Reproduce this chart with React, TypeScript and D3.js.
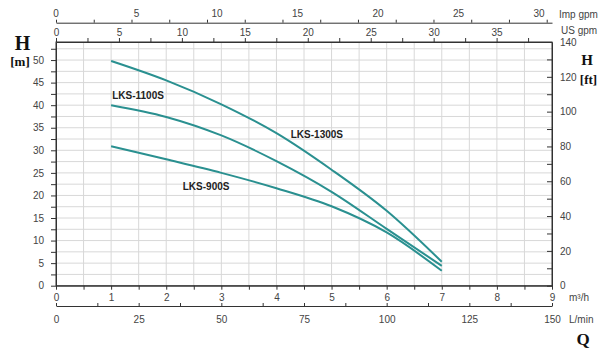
import { useEffect, useRef } from "react"
import * as d3 from "d3"

// flow points (m3/h) and head (m)
const flowQ = [1, 2, 3, 4, 5, 6, 7]
const head1300 = [49.8, 45.5, 40.2, 33.8, 25.7, 16.6, 5.3]
const head1100 = [40.0, 37.4, 33.3, 27.6, 20.8, 12.6, 4.4]
const head900 = [30.9, 28.0, 25.0, 21.6, 17.6, 11.8, 3.3]

const seriesNames = ["LKS-1300S", "LKS-1100S", "LKS-900S"]
const seriesValues = [head1300, head1100, head900]
// label anchor (Q, H) for each curve name
const labelQ = [4.26, 1.02, 2.3]
const labelH = [32.7, 41.4, 21.2]

const mTicks = d3.range(0, 54, 2.5)
const ftTicks = d3.range(0, 141, 10)
const qTicks = d3.range(0, 9.01, 0.5)
const lminTicks = d3.range(0, 150.1, 12.5)
const usTicks = d3.range(0, 39, 2.5)
const impTicks = d3.range(0, 33, 2.5)
const impLabels = [0, 5, 10, 15, 20, 25, 30]

const axisFont = "'Liberation Sans', Arial, sans-serif"
const serifFont = "'Liberation Serif', 'Times New Roman', serif"
const textColor = "#444"
const lineColor = "#2a9090"

export default function App() {
  const svgRef = useRef<SVGSVGElement>(null)

  useEffect(() => {
    if (!svgRef.current) return
    const root = d3.select(svgRef.current)
    root.selectAll("*").remove()

    const left = 56
    const right = 552
    const top = 42
    const bottom = 285.7

    const x = d3.scaleLinear().domain([0, 9]).range([left, right])
    const yM = d3.scaleLinear().domain([0, 54]).range([bottom, top])
    const yFt = d3.scaleLinear().domain([0, 140]).range([bottom, top])
    const xL = d3.scaleLinear().domain([0, 150]).range([left, right])
    const xUs = d3.scaleLinear().domain([0, 39.4]).range([left, right])
    const xImp = d3.scaleLinear().domain([0, 32.85]).range([left, right])
    // the printed imp gpm numbers drift from their ticks in the source
    const xImpLabel = d3.scaleLinear().domain([0, 30]).range([left, 539])

    root.append("rect").attr("width", 600).attr("height", 351).attr("fill", "#fff")

    // grid
    const grid = root.append("g").attr("stroke", "#d8d8d8").attr("stroke-width", 1)
    grid
      .selectAll("line.h")
      .data(mTicks.filter((d) => d > 0))
      .enter()
      .append("line")
      .attr("x1", left)
      .attr("x2", right)
      .attr("y1", (d) => yM(d))
      .attr("y2", (d) => yM(d))
    grid
      .selectAll("line.v")
      .data(qTicks.filter((d) => d > 0 && d < 9))
      .enter()
      .append("line")
      .attr("x1", (d) => x(d))
      .attr("x2", (d) => x(d))
      .attr("y1", top)
      .attr("y2", bottom)

    const styleAxis = (g: any) => {
      g.selectAll("path").attr("stroke", "#333")
      g.selectAll("line").attr("stroke", "#333")
      g.selectAll("text").attr("fill", textColor).style("font-family", axisFont).style("font-size", "10px")
    }

    // left axis (m)
    root
      .append("g")
      .attr("transform", `translate(${left},0)`)
      .call(
        d3
          .axisLeft(yM)
          .tickValues(mTicks)
          .tickSize(5)
          .tickSizeOuter(0)
          .tickPadding(7)
          .tickFormat((d: any) => (d % 5 === 0 ? String(d) : ""))
      )
      .call(styleAxis)

    // right axis (ft)
    root
      .append("g")
      .attr("transform", `translate(${right},0)`)
      .call(d3.axisRight(yFt).tickValues(ftTicks).tickSizeInner(-5).tickSizeOuter(0).tickPadding(8).tickFormat((d: any) => (d % 20 === 0 ? String(d) : "")))
      .call(styleAxis)

    // bottom axis (m3/h)
    root
      .append("g")
      .attr("transform", `translate(0,${bottom})`)
      .call(
        d3
          .axisBottom(x)
          .tickValues(qTicks)
          .tickSize(4)
          .tickSizeOuter(0)
          .tickPadding(4.5)
          .tickFormat((d: any) => (d % 1 === 0 ? String(d) : ""))
      )
      .call(styleAxis)

    // L/min axis
    root
      .append("g")
      .attr("transform", `translate(0,306)`)
      .call(
        d3
          .axisBottom(xL)
          .tickValues(lminTicks)
          .tickSizeInner(-3)
          .tickSizeOuter(0)
          .tickPadding(9.5)
          .tickFormat((d: any) => (d % 25 === 0 ? String(d) : ""))
      )
      .call(styleAxis)

    // top axis (US gpm)
    root
      .append("g")
      .attr("transform", `translate(0,${top})`)
      .call(
        d3
          .axisTop(xUs)
          .tickValues(usTicks)
          .tickSize(4)
          .tickSizeOuter(0)
          .tickPadding(2)
          .tickFormat((d: any) => (d % 5 === 0 ? String(d) : ""))
      )
      .call(styleAxis)

    // top axis (Imp gpm)
    root
      .append("g")
      .attr("transform", `translate(0,22.7)`)
      .call(d3.axisTop(xImp).tickValues(impTicks).tickSize(3).tickSizeOuter(0).tickFormat(() => ""))
      .call(styleAxis)
    root
      .append("g")
      .selectAll("text")
      .data(impLabels)
      .enter()
      .append("text")
      .attr("x", (d) => xImpLabel(d))
      .attr("y", 16.7)
      .attr("text-anchor", "middle")
      .attr("fill", textColor)
      .style("font-family", axisFont)
      .style("font-size", "10px")
      .text((d) => d)

    // plot frame
    root
      .append("rect")
      .attr("x", left)
      .attr("y", top)
      .attr("width", right - left)
      .attr("height", bottom - top)
      .attr("fill", "none")
      .attr("stroke", "#333")
      .attr("stroke-width", 1)

    // curves
    const line = d3
      .line<number>()
      .x((_, i) => x(flowQ[i]))
      .y((d) => yM(d))
      .curve(d3.curveMonotoneX)

    seriesValues.forEach((vals, si) => {
      root
        .append("path")
        .attr("d", line(vals) as string)
        .attr("fill", "none")
        .attr("stroke", lineColor)
        .attr("stroke-width", 2)

      root
        .append("text")
        .attr("x", x(labelQ[si]))
        .attr("y", yM(labelH[si]))
        .attr("fill", "#222")
        .style("font-family", axisFont)
        .style("font-size", "10px")
        .style("font-weight", "bold")
        .text(seriesNames[si])
    })

    // unit labels
    const unit = (tx: number, ty: number, t: string) =>
      root
        .append("text")
        .attr("x", tx)
        .attr("y", ty)
        .attr("fill", textColor)
        .style("font-family", axisFont)
        .style("font-size", "10px")
        .text(t)

    unit(559, 18, "Imp gpm")
    unit(561, 34, "US gpm")
    unit(569, 300.5, "m³/h")
    unit(569, 322.5, "L/min")

    const serif = (tx: number, ty: number, t: string, size: number, anchor = "start") =>
      root
        .append("text")
        .attr("x", tx)
        .attr("y", ty)
        .attr("text-anchor", anchor)
        .attr("fill", "#111")
        .style("font-family", serifFont)
        .style("font-size", `${size}px`)
        .style("font-weight", "bold")
        .text(t)

    serif(22.5, 50, "H", 20, "middle")
    serif(20, 66, "[m]", 13, "middle")
    serif(587, 65, "H", 15, "middle")
    serif(588.5, 84, "[ft]", 13, "middle")
    serif(583, 345, "Q", 17, "middle")
  }, [])

  return (
    <svg
      ref={svgRef}
      width={600}
      height={351}
      style={{ position: "absolute", left: 0, top: 0, display: "block" }}
    ></svg>
  )
}
